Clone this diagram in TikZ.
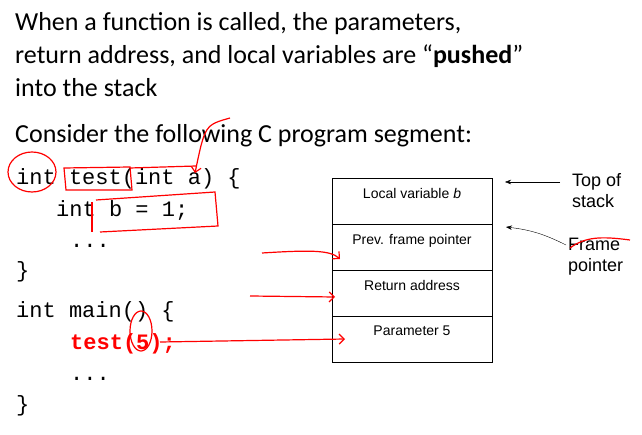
\documentclass[tikz,border=0pt]{standalone}
\usepackage{fontspec}
\setmainfont{Carlito}
\setmonofont{Liberation Mono}
\newfontfamily\arialf{Liberation Sans}
\usetikzlibrary{arrows.meta}
\begin{document}
\begin{tikzpicture}[x=1pt,y=-1pt,
  head/.style={anchor=base west,font=\fontsize{26}{28}\selectfont,inner sep=0},
  code/.style={anchor=base west,font=\fontsize{22}{24}\ttfamily,inner sep=0},
  cell/.style={draw,minimum width=160pt,minimum height=46pt,inner sep=0},
  celltxt/.style={anchor=north,font=\arialf\fontsize{14}{16}\selectfont,inner sep=0},
  side/.style={anchor=west,font=\arialf\fontsize{18}{21}\selectfont,align=left,inner sep=0},
  ink/.style={red,line width=1.2pt},
  inkarrow/.style={ink,-{Straight Barb[length=5pt]}}]
\useasboundingbox (0,0) rectangle (642,435);
\node[head] (h1) at (15,31) {When a function is called, the parameters,};
\node[head] (h2) at (15,64) {return address, and local variables are “\textbf{pushed}"};
\node[head] (h3) at (15,97) {into the stack};
\node[head] (h4) at (15,143) {Consider the following C program segment:};
\node[code] (c1) at (16,185) {int test(int a) \{};
\node[code] (c2) at (56,217) {int b = 1;};
\node[code] (c3) at (70,248) {...};
\node[code] (c4) at (16,278) {\}};
\node[code] (c5) at (16,317) {int main() \{};
\node[code] (c6) at (70,349) {\textcolor{red}{\textbf{test(5);}}};
\node[code] (c7) at (70,380) {...};
\node[code] (c8) at (16,411) {\}};
% stack
\node[cell] (s1) at (412,201) {};
\node[cell] (s2) at (412,247) {};
\node[cell] (s3) at (412,293) {};
\node[cell] (s4) at (412,339) {};
\node[celltxt] at ([yshift=-10pt]s1.north) {Local variable \textit{b}};
\node[celltxt] at ([yshift=-10pt]s2.north) {Prev. frame pointer};
\node[celltxt] at ([yshift=-10pt]s3.north) {Return address};
\node[celltxt] at ([yshift=-10pt]s4.north) {Parameter 5};
\node[side] (tos) at (572,191) {Top of\\stack};
\node[side] (fp) at (568,257) {Frame\\pointer};
\coordinate (t1) at (560,182);
\coordinate (t2) at (505,182);
\draw[-{Stealth[length=6pt]}] (t1) -- (t2);
\coordinate (f1) at (566,245);
\coordinate (f2) at (506,227);
\draw[-{Stealth[length=6pt]}] (f1) to[bend right=10] (f2);
% red ink
\draw[ink] (32,172) ellipse (24pt and 20pt);
\draw[ink] (64,168) -- (130,167) -- (132,190) -- (66,190) -- cycle;
\draw[ink] (130,168) -- (196,166);
\draw[ink] (92,202) -- (92,232);
\draw[ink] (96,200) -- (215,192) -- (218,226) -- (100,232);
\draw[ink] (141,331) ellipse (11pt and 20pt);
\coordinate (a1) at (230,118);
\coordinate (a2) at (195,173);
\draw[inkarrow] (a1) .. controls (205,125) .. (a2);
\draw[ink] (570,248) .. controls (585,237) and (600,236) .. (630,240);
\coordinate (r1) at (262,253);
\coordinate (r2) at (340,259);
\draw[inkarrow] (r1) .. controls (310,250) and (330,250) .. (r2);
\coordinate (r3) at (250,296);
\coordinate (r4) at (335,297);
\draw[inkarrow] (r3) -- (r4);
\coordinate (r5) at (160,342);
\coordinate (r6) at (345,339);
\draw[inkarrow] (r5) -- (r6);
\end{tikzpicture}
\end{document}
